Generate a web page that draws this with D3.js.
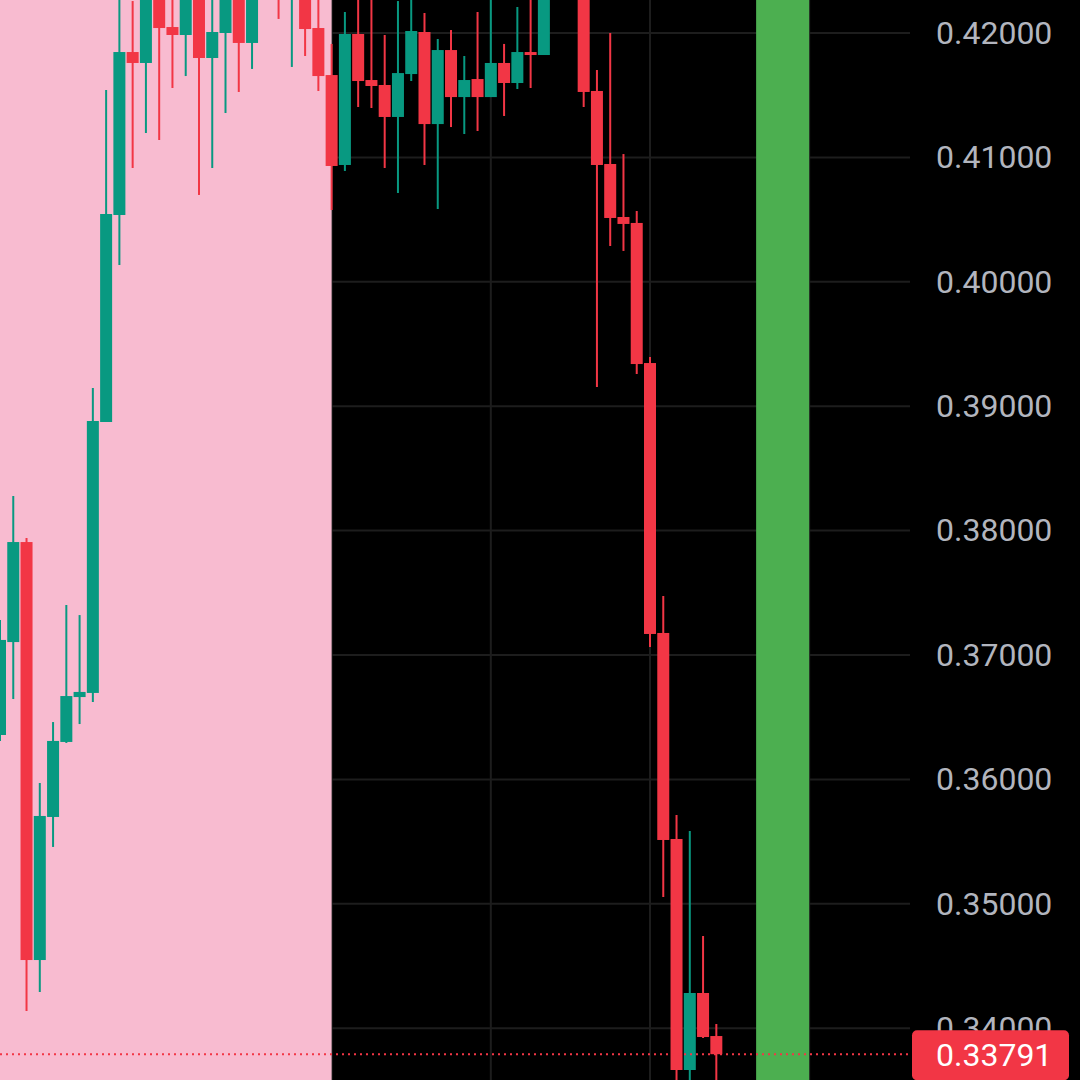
<!DOCTYPE html>
<html>
<head>
<meta charset="utf-8">
<script src="https://cdn.jsdelivr.net/npm/d3@7"></script>
<style>
  html, body { margin: 0; padding: 0; background: #000; }
  svg { display: block; font-family: Roboto, "Noto Sans", sans-serif; }
</style>
</head>
<body>
<div id="chart"></div>
<script>
// candle values, left to right (one per bar)
const opens = [
  0.36357, 0.37104, 0.37908, 0.34548, 0.35698, 0.36301, 0.36662, 0.36695, 0.38873, 0.40537,
  0.41847, 0.41759, 0.42426, 0.42048, 0.41984, 0.42330, 0.41799, 0.42000, 0.42362, 0.41920,
  0.42320, 0.42587, 0.42305, 0.42506, 0.42040, 0.41662, 0.40939, 0.41992, 0.41622, 0.41582,
  0.41325, 0.41670, 0.42008, 0.41268, 0.41863, 0.41485, 0.41630, 0.41485, 0.41759, 0.41598,
  0.41847, 0.41823, 0.42386, 0.42547, 0.42386, 0.41534, 0.40947, 0.40521, 0.40473, 0.39347,
  0.37177, 0.35521, 0.33664, 0.34283, 0.33937
];
const highs = [
  0.37281, 0.38278, 0.37940, 0.35971, 0.36461, 0.37402, 0.37321, 0.39146, 0.41542, 0.42346,
  0.42257, 0.42587, 0.42506, 0.42305, 0.42466, 0.42426, 0.42305, 0.42506, 0.42466, 0.42426,
  0.42627, 0.42667, 0.42587, 0.42587, 0.42305, 0.41912, 0.42169, 0.42305, 0.42289, 0.41984,
  0.42257, 0.42305, 0.42161, 0.41952, 0.42024, 0.41815, 0.42169, 0.42305, 0.41912, 0.42209,
  0.42305, 0.42426, 0.42627, 0.42587, 0.42466, 0.41703, 0.42000, 0.41027, 0.40569, 0.39395,
  0.37474, 0.35714, 0.35585, 0.34741, 0.34034
];
const lows = [
  0.36309, 0.36646, 0.34138, 0.34291, 0.35457, 0.36293, 0.36445, 0.36622, 0.38873, 0.40135,
  0.40915, 0.41196, 0.41140, 0.41558, 0.41654, 0.40698, 0.40915, 0.41357, 0.41526, 0.41711,
  0.42289, 0.42113, 0.41727, 0.41815, 0.41534, 0.40577, 0.40891, 0.41405, 0.41397, 0.40915,
  0.40714, 0.41614, 0.40939, 0.40585, 0.41244, 0.41188, 0.41212, 0.41485, 0.41333, 0.41550,
  0.41558, 0.41823, 0.42305, 0.42305, 0.41405, 0.39154, 0.40288, 0.40248, 0.39259, 0.37064,
  0.35055, 0.33503, 0.33503, 0.33921, 0.33503
];
const closes = [
  0.37121, 0.37908, 0.34548, 0.35706, 0.36309, 0.36670, 0.36703, 0.38881, 0.40545, 0.41847,
  0.41759, 0.42386, 0.42040, 0.41984, 0.42346, 0.41799, 0.42008, 0.42386, 0.41920, 0.42305,
  0.42506, 0.42305, 0.42506, 0.42032, 0.41654, 0.40931, 0.41992, 0.41614, 0.41574, 0.41325,
  0.41678, 0.42016, 0.41268, 0.41863, 0.41485, 0.41622, 0.41485, 0.41759, 0.41598, 0.41847,
  0.41823, 0.42346, 0.42547, 0.42346, 0.41526, 0.40939, 0.40513, 0.40465, 0.39339, 0.37169,
  0.35513, 0.33664, 0.34283, 0.33929, 0.33791
];

const priceTicks = [0.34, 0.35, 0.36, 0.37, 0.38, 0.39, 0.40, 0.41, 0.42];
const timeGrid = [13, 25, 37, 49, 61];     // bar index of vertical grid lines
const pinkBand = [-1, 25];                 // shaded session, bar index from/to
const greenBand = [57, 61];
const lastPrice = 0.33791;

const width = 1080, height = 1080, plotRight = 910;
const up = "#089981", down = "#f23645";

const svg = d3.select("#chart")
  .append("svg")
    .attr("width", width)
    .attr("height", height);

svg.append("rect")
  .attr("width", width)
  .attr("height", height)
  .attr("fill", "#000");

const x = d3.scaleLinear()
  .domain([0, 68.6])
  .range([0, plotRight]);

const y = d3.scaleLinear()
  .domain([0.34, 0.42])
  .range([1028.2, 33]);

const bars = opens.map((o, i) => ({ i, o, h: highs[i], l: lows[i], c: closes[i] }));

svg.append("clipPath").attr("id", "plot")
  .append("rect")
    .attr("width", plotRight)
    .attr("height", height);

const plot = svg.append("g").attr("clip-path", "url(#plot)");

// grid
plot.selectAll(".hgrid")
  .data(priceTicks)
  .enter()
  .append("line")
    .attr("x1", 0)
    .attr("x2", plotRight)
    .attr("y1", d => y(d))
    .attr("y2", d => y(d))
    .attr("stroke", "#1d1d1d")
    .attr("stroke-width", 2);

plot.selectAll(".vgrid")
  .data(timeGrid)
  .enter()
  .append("line")
    .attr("x1", d => x(d))
    .attr("x2", d => x(d))
    .attr("y1", 0)
    .attr("y2", height)
    .attr("stroke", "#1d1d1d")
    .attr("stroke-width", 2);

// shaded bands
plot.append("rect")
  .attr("x", x(pinkBand[0]))
  .attr("width", x(pinkBand[1]) - x(pinkBand[0]))
  .attr("y", 0)
  .attr("height", height)
  .attr("fill", "#f8bbd0");

plot.append("rect")
  .attr("x", x(greenBand[0]))
  .attr("width", x(greenBand[1]) - x(greenBand[0]))
  .attr("y", 0)
  .attr("height", height)
  .attr("fill", "#4caf50");

// candles
const bodyW = 12;

plot.selectAll(".wick")
  .data(bars)
  .enter()
  .append("line")
    .attr("x1", d => x(d.i))
    .attr("x2", d => x(d.i))
    .attr("y1", d => y(d.h))
    .attr("y2", d => y(d.l))
    .attr("stroke", d => d.c >= d.o ? up : down)
    .attr("stroke-width", 2);

plot.selectAll(".body")
  .data(bars)
  .enter()
  .append("rect")
    .attr("x", d => x(d.i) - bodyW / 2)
    .attr("y", d => y(Math.max(d.o, d.c)))
    .attr("width", bodyW)
    .attr("height", d => Math.max(2, Math.abs(y(d.o) - y(d.c))))
    .attr("fill", d => d.c >= d.o ? up : down);

// last price line
plot.append("line")
  .attr("x1", 0)
  .attr("x2", plotRight)
  .attr("y1", y(lastPrice))
  .attr("y2", y(lastPrice))
  .attr("stroke", down)
  .attr("stroke-width", 2)
  .attr("stroke-dasharray", "2,4");

// price axis
const axis = svg.append("g")
  .attr("transform", "translate(936,0)")
  .call(d3.axisRight(y).tickValues(priceTicks).tickFormat(d3.format(".5f")).tickSize(0).tickPadding(0));

axis.select(".domain").remove();
axis.selectAll("text")
  .attr("fill", "#b2b5be")
  .attr("font-size", 32)
  .attr("font-family", "Roboto, sans-serif")
  .attr("text-anchor", "start");

// last price tag
svg.append("rect")
  .attr("x", 912)
  .attr("y", y(lastPrice) - 24)
  .attr("width", 157)
  .attr("height", 50)
  .attr("rx", 5)
  .attr("fill", down);

svg.append("text")
  .attr("x", 936)
  .attr("y", y(lastPrice))
  .attr("dy", "0.36em")
  .attr("fill", "#fff")
  .attr("font-size", 32)
  .text(d3.format(".5f")(lastPrice));
</script>
</body>
</html>
